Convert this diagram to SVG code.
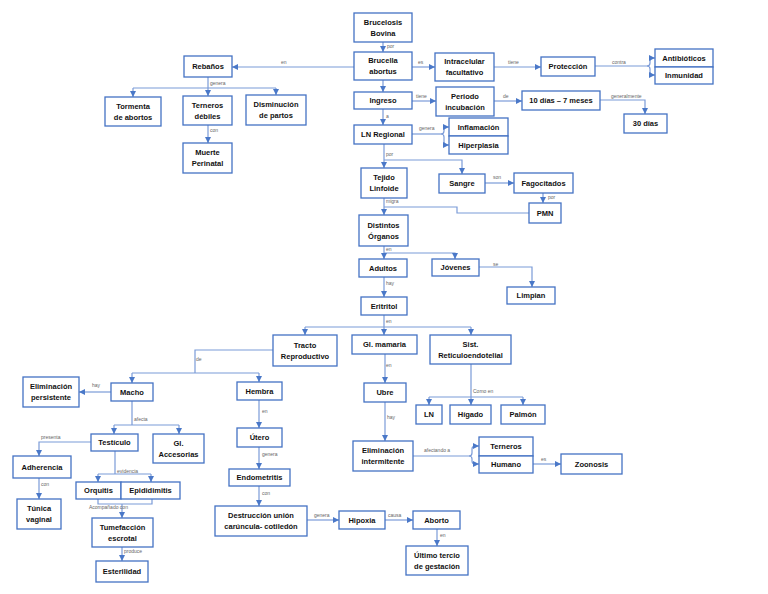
<svg xmlns="http://www.w3.org/2000/svg" width="768" height="594" viewBox="0 0 768 594">
<style>
.n rect{fill:#fff;stroke:#4472c4;stroke-width:1.3}
.n text{font-family:"Liberation Sans",Arial,sans-serif;font-weight:bold;font-size:7.5px;fill:#111;text-anchor:middle}
.c path{fill:none;stroke:#7b9bd8;stroke-width:1.2}
.l text{font-family:"Liberation Sans",Arial,sans-serif;font-size:5px;fill:#666}
</style>
<defs>
<marker id="a" viewBox="0 0 6 6" refX="6" refY="3" markerWidth="6" markerHeight="6" orient="auto" markerUnits="userSpaceOnUse"><path d="M0,0 L6,3 L0,6z" fill="#4a78c8"/></marker>
</defs>
<rect width="768" height="594" fill="#fff"/>
<g class="c" id="connectors">
<path d="M383,42 V52" marker-end="url(#a)"/>
<path d="M354,67 H232" marker-end="url(#a)"/>
<path d="M412,67 H435" marker-end="url(#a)"/>
<path d="M494,67 H541" marker-end="url(#a)"/>
<path d="M595,66 H647"/>
<path d="M647,66 Q650,66 650,63 V61 Q650,58 653,58 H655" marker-end="url(#a)"/>
<path d="M647,66 Q650,66 650,69 V72 Q650,75 653,75 H655" marker-end="url(#a)"/>
<path d="M208,77 V88 M133,88 H276"/>
<path d="M133,88 V97" marker-end="url(#a)"/>
<path d="M208,88 V96" marker-end="url(#a)"/>
<path d="M276,88 V95" marker-end="url(#a)"/>
<path d="M208,125 V143" marker-end="url(#a)"/>
<path d="M383,80 V92" marker-end="url(#a)"/>
<path d="M412,101 H436" marker-end="url(#a)"/>
<path d="M494,101 H522" marker-end="url(#a)"/>
<path d="M600,100 H645 V114" marker-end="url(#a)"/>
<path d="M383,109 V125" marker-end="url(#a)"/>
<path d="M412,134 H441"/>
<path d="M441,134 Q444,134 444,131 V130 Q444,127 447,127 H449" marker-end="url(#a)"/>
<path d="M441,134 Q444,134 444,137 V142 Q444,145 447,145 H449" marker-end="url(#a)"/>
<path d="M384,144 V168" marker-end="url(#a)"/>
<path d="M384,160 H462 V174" marker-end="url(#a)"/>
<path d="M485,183 H514" marker-end="url(#a)"/>
<path d="M543,193 V203" marker-end="url(#a)"/>
<path d="M384,198 V215" marker-end="url(#a)"/>
<path d="M529,213 H457 V207 H384"/>
<path d="M384,246 V253 H455 V259" marker-end="url(#a)"/>
<path d="M384,253 V259" marker-end="url(#a)"/>
<path d="M479,267 H532 V287" marker-end="url(#a)"/>
<path d="M384,277 V297" marker-end="url(#a)"/>
<path d="M384,315 V327 M305,327 H471"/>
<path d="M305,327 V335" marker-end="url(#a)"/>
<path d="M384,327 V335" marker-end="url(#a)"/>
<path d="M471,327 V335" marker-end="url(#a)"/>
<path d="M385,354 V383" marker-end="url(#a)"/>
<path d="M385,402 V441" marker-end="url(#a)"/>
<path d="M413,456 H469"/>
<path d="M469,456 Q472,456 472,453 V449 Q472,446 475,446 H479" marker-end="url(#a)"/>
<path d="M469,456 Q472,456 472,459 V461 Q472,464 475,464 H479" marker-end="url(#a)"/>
<path d="M533,464 H561" marker-end="url(#a)"/>
<path d="M471,364 V397 M429,397 H523"/>
<path d="M429,397 V405" marker-end="url(#a)"/>
<path d="M471,397 V405" marker-end="url(#a)"/>
<path d="M523,397 V405" marker-end="url(#a)"/>
<path d="M273,350 H195 V373 M132,373 H259"/>
<path d="M132,373 V383" marker-end="url(#a)"/>
<path d="M259,373 V382" marker-end="url(#a)"/>
<path d="M111,392 H79" marker-end="url(#a)"/>
<path d="M132,401 V425 M114,425 H179"/>
<path d="M114,425 V434" marker-end="url(#a)"/>
<path d="M179,425 V434" marker-end="url(#a)"/>
<path d="M91,442 H39 V456" marker-end="url(#a)"/>
<path d="M39,478 V499" marker-end="url(#a)"/>
<path d="M115,451 V474 M98,474 H151"/>
<path d="M98,474 V482" marker-end="url(#a)"/>
<path d="M151,474 V482" marker-end="url(#a)"/>
<path d="M98,499 V504 H152 V499"/>
<path d="M122,504 V518" marker-end="url(#a)"/>
<path d="M122,547 V561" marker-end="url(#a)"/>
<path d="M259,400 V428" marker-end="url(#a)"/>
<path d="M259,447 V469" marker-end="url(#a)"/>
<path d="M259,486 V506" marker-end="url(#a)"/>
<path d="M307,520 H339" marker-end="url(#a)"/>
<path d="M385,520 H413" marker-end="url(#a)"/>
<path d="M437,529 V546" marker-end="url(#a)"/>
</g>
<g class="l" id="labels">
<text x="387" y="48">por</text>
<text x="281" y="64">en</text>
<text x="418" y="64">es</text>
<text x="508" y="64">tiene</text>
<text x="612" y="64">contra</text>
<text x="210" y="85">genera</text>
<text x="210" y="132">con</text>
<text x="416" y="98">tiene</text>
<text x="503" y="98">de</text>
<text x="611" y="98">generalmente</text>
<text x="386" y="118">a</text>
<text x="419" y="130">genera</text>
<text x="386" y="156">por</text>
<text x="493" y="179">son</text>
<text x="548" y="199">por</text>
<text x="386" y="203">migra</text>
<text x="386" y="251">en</text>
<text x="493" y="266">se</text>
<text x="386" y="285">hay</text>
<text x="386" y="323">en</text>
<text x="386" y="367">en</text>
<text x="387" y="419">hay</text>
<text x="424" y="452">afectando a</text>
<text x="541" y="461">es</text>
<text x="473" y="393">Como en</text>
<text x="196" y="361">de</text>
<text x="92" y="387">hay</text>
<text x="134" y="421">afecta</text>
<text x="41" y="439">presenta</text>
<text x="41" y="486">con</text>
<text x="117" y="473">evidencia</text>
<text x="89" y="509">Acompañado con</text>
<text x="124" y="553">produce</text>
<text x="262" y="413">en</text>
<text x="262" y="456">genera</text>
<text x="262" y="495">con</text>
<text x="314" y="517">genera</text>
<text x="388" y="517">causa</text>
<text x="440" y="537">en</text>
</g>
<g class="n" id="brucelosis"><rect x="354" y="13" width="58" height="29"/><text x="383" y="24.7">Brucelosis</text><text x="383" y="35.7">Bovina</text></g>
<g class="n" id="brucella"><rect x="354" y="52" width="58" height="28"/><text x="383" y="63.2">Brucella</text><text x="383" y="74.2">abortus</text></g>
<g class="n" id="intracelular"><rect x="435" y="53" width="59" height="28"/><text x="464.5" y="64.2">Intracelular</text><text x="464.5" y="75.2">facultativo</text></g>
<g class="n" id="proteccion"><rect x="541" y="57" width="54" height="19"/><text x="568" y="69.2">Protección</text></g>
<g class="n" id="antibioticos"><rect x="655" y="49" width="58" height="18"/><text x="684" y="60.7">Antibióticos</text></g>
<g class="n" id="inmunidad"><rect x="655" y="67" width="58" height="17"/><text x="684" y="78.2">Inmunidad</text></g>
<g class="n" id="rebanos"><rect x="184" y="56" width="48" height="21"/><text x="208" y="69.2">Rebaños</text></g>
<g class="n" id="tormenta"><rect x="105" y="97" width="56" height="29"/><text x="133" y="108.7">Tormenta</text><text x="133" y="119.7">de abortos</text></g>
<g class="n" id="terneros-debiles"><rect x="183" y="96" width="49" height="29"/><text x="207.5" y="107.7">Terneros</text><text x="207.5" y="118.7">débiles</text></g>
<g class="n" id="disminucion"><rect x="246" y="95" width="60" height="30"/><text x="276" y="107.2">Disminución</text><text x="276" y="118.2">de partos</text></g>
<g class="n" id="muerte"><rect x="183" y="143" width="49" height="30"/><text x="207.5" y="155.2">Muerte</text><text x="207.5" y="166.2">Perinatal</text></g>
<g class="n" id="ingreso"><rect x="354" y="92" width="58" height="17"/><text x="383" y="103.2">Ingreso</text></g>
<g class="n" id="periodo"><rect x="436" y="87" width="58" height="29"/><text x="465" y="98.7">Periodo</text><text x="465" y="109.7">incubación</text></g>
<g class="n" id="dias"><rect x="522" y="91" width="78" height="19"/><text x="561" y="103.4">10 días – 7 meses</text></g>
<g class="n" id="treinta"><rect x="624" y="114" width="43" height="19"/><text x="645.5" y="126.2">30 días</text></g>
<g class="n" id="ln-regional"><rect x="354" y="125" width="58" height="19"/><text x="383" y="137.2">LN Regional</text></g>
<g class="n" id="inflamacion"><rect x="449" y="118" width="59" height="18"/><text x="478.5" y="129.7">Inflamación</text></g>
<g class="n" id="hiperplasia"><rect x="449" y="136" width="59" height="18"/><text x="478.5" y="147.7">Hiperplasia</text></g>
<g class="n" id="tejido"><rect x="361" y="168" width="46" height="30"/><text x="384" y="180.2">Tejido</text><text x="384" y="191.2">Linfoide</text></g>
<g class="n" id="sangre"><rect x="439" y="174" width="46" height="19"/><text x="462" y="186.2">Sangre</text></g>
<g class="n" id="fagocitados"><rect x="514" y="173" width="59" height="20"/><text x="543.5" y="185.7">Fagocitados</text></g>
<g class="n" id="pmn"><rect x="529" y="203" width="32" height="20"/><text x="545" y="215.7">PMN</text></g>
<g class="n" id="distintos"><rect x="359" y="215" width="49" height="31"/><text x="383.5" y="227.7">Distintos</text><text x="383.5" y="238.7">Órganos</text></g>
<g class="n" id="adultos"><rect x="359" y="259" width="48" height="18"/><text x="383" y="270.7">Adultos</text></g>
<g class="n" id="jovenes"><rect x="432" y="259" width="47" height="17"/><text x="455.5" y="270.2">Jóvenes</text></g>
<g class="n" id="limpian"><rect x="507" y="287" width="48" height="17"/><text x="531" y="298.2">Limpian</text></g>
<g class="n" id="eritritol"><rect x="361" y="297" width="46" height="18"/><text x="384" y="308.7">Eritritol</text></g>
<g class="n" id="tracto"><rect x="273" y="335" width="64" height="31"/><text x="305" y="347.7">Tracto</text><text x="305" y="358.7">Reproductivo</text></g>
<g class="n" id="gl-mamaria"><rect x="352" y="335" width="65" height="19"/><text x="384.5" y="347.2">Gl. mamaria</text></g>
<g class="n" id="sist"><rect x="430" y="335" width="81" height="29"/><text x="470.5" y="346.7">Sist.</text><text x="470.5" y="357.7">Reticuloendotelial</text></g>
<g class="n" id="ubre"><rect x="364" y="383" width="42" height="19"/><text x="385" y="395.2">Ubre</text></g>
<g class="n" id="elim-int"><rect x="353" y="441" width="60" height="30"/><text x="383" y="453.2">Eliminación</text><text x="383" y="464.2">intermitente</text></g>
<g class="n" id="terneros"><rect x="479" y="437" width="54" height="19"/><text x="506" y="449.2">Terneros</text></g>
<g class="n" id="humano"><rect x="479" y="456" width="54" height="17"/><text x="506" y="467.2">Humano</text></g>
<g class="n" id="zoonosis"><rect x="561" y="454" width="61" height="20"/><text x="591.5" y="466.7">Zoonosis</text></g>
<g class="n" id="ln"><rect x="416" y="405" width="26" height="19"/><text x="429" y="417.2">LN</text></g>
<g class="n" id="higado"><rect x="450" y="405" width="41" height="19"/><text x="470.5" y="417.2">Hígado</text></g>
<g class="n" id="palmon"><rect x="501" y="405" width="44" height="19"/><text x="523" y="417.2">Palmón</text></g>
<g class="n" id="macho"><rect x="111" y="383" width="42" height="18"/><text x="132" y="394.7">Macho</text></g>
<g class="n" id="elim-pers"><rect x="23" y="377" width="56" height="30"/><text x="51" y="389.2">Eliminación</text><text x="51" y="400.2">persistente</text></g>
<g class="n" id="hembra"><rect x="237" y="382" width="45" height="18"/><text x="259.5" y="393.7">Hembra</text></g>
<g class="n" id="testiculo"><rect x="91" y="434" width="47" height="17"/><text x="114.5" y="445.2">Testículo</text></g>
<g class="n" id="gl-acc"><rect x="153" y="434" width="51" height="29"/><text x="178.5" y="445.7">Gl.</text><text x="178.5" y="456.7">Accesorias</text></g>
<g class="n" id="adherencia"><rect x="13" y="456" width="58" height="22"/><text x="42" y="469.7">Adherencia</text></g>
<g class="n" id="tunica"><rect x="17" y="499" width="44" height="30"/><text x="39" y="511.2">Túnica</text><text x="39" y="522.2">vaginal</text></g>
<g class="n" id="orquitis"><rect x="76" y="482" width="45" height="17"/><text x="98.5" y="493.2">Orquitis</text></g>
<g class="n" id="epididimitis"><rect x="121" y="482" width="59" height="17"/><text x="150.5" y="493.2">Epididimitis</text></g>
<g class="n" id="tumefaccion"><rect x="92" y="518" width="61" height="29"/><text x="122.5" y="529.7">Tumefacción</text><text x="122.5" y="540.7">escrotal</text></g>
<g class="n" id="esterilidad"><rect x="96" y="561" width="52" height="21"/><text x="122" y="574.2">Esterilidad</text></g>
<g class="n" id="utero"><rect x="237" y="428" width="45" height="19"/><text x="259.5" y="440.2">Útero</text></g>
<g class="n" id="endometritis"><rect x="229" y="469" width="61" height="17"/><text x="259.5" y="480.2">Endometritis</text></g>
<g class="n" id="destruccion"><rect x="215" y="506" width="92" height="30"/><text x="261" y="518.2">Destrucción unión</text><text x="261" y="529.2">carúncula- cotiledón</text></g>
<g class="n" id="hipoxia"><rect x="339" y="511" width="46" height="18"/><text x="362" y="522.7">Hipoxia</text></g>
<g class="n" id="aborto"><rect x="413" y="511" width="47" height="18"/><text x="436.5" y="522.7">Aborto</text></g>
<g class="n" id="ultimo"><rect x="406" y="546" width="62" height="29"/><text x="437" y="557.7">Último tercio</text><text x="437" y="568.7">de gestación</text></g>
</svg>
